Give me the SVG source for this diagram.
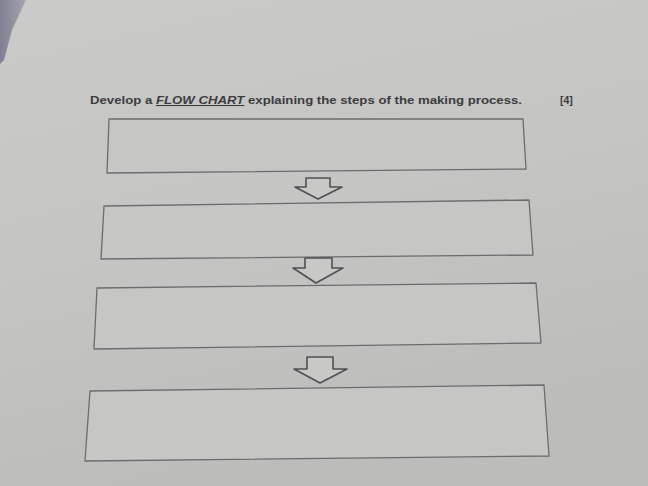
<svg xmlns="http://www.w3.org/2000/svg" width="648" height="486" viewBox="0 0 648 486">
<defs>
<linearGradient id="bg" x1="0" y1="0" x2="0.3" y2="1">
<stop offset="0" stop-color="#cacac8"/>
<stop offset="0.5" stop-color="#c5c5c3"/>
<stop offset="1" stop-color="#bcbcba"/>
</linearGradient>
<linearGradient id="strip" x1="0" y1="0" x2="1" y2="0">
<stop offset="0" stop-color="#7f7f92"/>
<stop offset="1" stop-color="#a6a6b0"/>
</linearGradient>
</defs>
<style>
.box{fill:#c6c6c4;stroke:#6c6c6e;stroke-width:1.3;stroke-linejoin:round}
.arr{fill:#c8c8c6;stroke:#505052;stroke-width:1.6;stroke-linejoin:round}
.t{font-family:"Liberation Sans",Arial,sans-serif;font-weight:bold;font-size:10.5px;fill:#3c3c3e}
</style>
<rect width="648" height="486" fill="url(#bg)"/>
<polygon points="0,0 26,0 12,30 4,60 0,64" fill="url(#strip)"/>
<text class="t" x="90" y="104" textLength="432" lengthAdjust="spacingAndGlyphs">Develop a <tspan font-style="italic" text-decoration="underline">FLOW CHART</tspan> explaining the steps of the making process.</text>
<text class="t" x="560" y="104">[4]</text>
<g id="box1"><polygon class="box" points="109,119 523,119 526,169 107,173"/></g>
<g id="box2"><polygon class="box" points="104,206 529,200 533,255 101,259"/></g>
<g id="box3"><polygon class="box" points="97,288 536,283 541,343 94,349"/></g>
<g id="box4"><polygon class="box" points="90,391 544,385 549,456 85,461"/></g>
<g id="connectors">
<polygon class="arr" points="306,178 330,178 330,187 342,187 318,199 295,187 306,187"/>
<polygon class="arr" points="305,258 332,258 332,268 343,268 316,283 293,268 305,268"/>
<polygon class="arr" points="307,357 333,357 333,369 347,369 320,383 294,369 307,369"/>
</g>
</svg>
